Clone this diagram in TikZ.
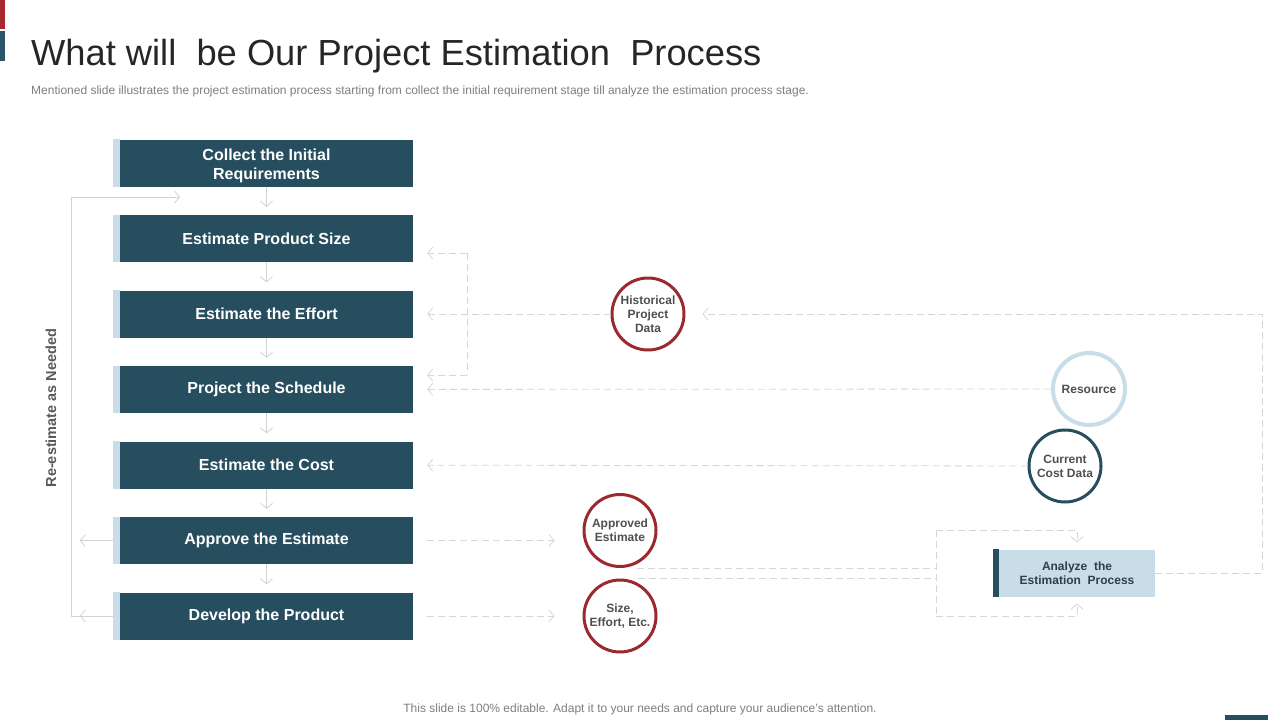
\documentclass[tikz,border=0pt]{standalone}
\usepackage{fontspec}
\setmainfont{Liberation Sans}
\usetikzlibrary{arrows.meta}
\definecolor{boxteal}{HTML}{264E5F}
\definecolor{stripblue}{HTML}{C8DDE7}
\definecolor{darkred}{HTML}{9B2A2F}
\definecolor{accentred}{HTML}{A8282F}
\definecolor{accentteal}{HTML}{2B5468}
\definecolor{flowgray}{HTML}{D2D2D2}
\definecolor{dashgray}{HTML}{D6D6D6}
\definecolor{circtext}{HTML}{4F4F4F}
\definecolor{titlegray}{HTML}{262626}
\definecolor{notegray}{HTML}{7F7F7F}
\definecolor{labelgray}{HTML}{595959}
\definecolor{analyzetext}{HTML}{2F3F4A}

\begin{document}
\begin{tikzpicture}[x=1pt, y=-1pt,
  stepbox/.style={fill=boxteal, text=white, font=\bfseries\fontsize{16}{19}\selectfont,
    minimum width=293pt, minimum height=47pt, inner sep=0pt, align=center},
  datacircle/.style={circle, draw=#1, line width=3pt, minimum size=72pt, inner sep=0pt,
    align=center, text=circtext, font=\bfseries\fontsize{12}{14}\selectfont},
  analyzebox/.style={fill=stripblue, text=analyzetext, font=\bfseries\fontsize{12}{14}\selectfont,
    minimum width=156pt, minimum height=47pt, inner sep=0pt, align=center},
  flow/.style={draw=flowgray, line width=0.8pt, -{Straight Barb[length=5pt,width=12pt]}},
  dashflow/.style={draw=dashgray, line width=0.8pt, dash pattern=on 7pt off 4pt},
  dasharrow/.style={dashflow, -{Straight Barb[length=5pt,width=12pt]}}]

\useasboundingbox[fill=white] (0,0) rectangle (1280,720);

% corner marks
\fill[accentred] (0,0) rectangle (5,29);
\fill[accentteal] (0,31) rectangle (5,61);
\fill[boxteal] (1225,715) rectangle (1268,720);

% title and notes
\node[anchor=base west, inner sep=0pt, font=\fontsize{36.3}{43}\selectfont, text=titlegray] (title) at (31,65)
  {What will~ be Our Project Estimation~ Process};
\node[anchor=base west, inner sep=0pt, font=\fontsize{12}{14}\selectfont, text=notegray] (subtitle) at (31,94)
  {Mentioned slide illustrates the project estimation process starting from collect the initial requirement stage till analyze the estimation process stage.};
\node[anchor=base, inner sep=0pt, font=\fontsize{12}{14}\selectfont, text=notegray] (footer) at (640,712)
  {This slide is 100\% editable. Adapt it to your needs and capture your audience's attention.};

% process steps
\foreach \name/\y/\txt in {collect/163/{\rule{0pt}{17.7pt}Collect the Initial\\Requirements},
    prodsize/238.5/{Estimate Product Size}, effort/314/{Estimate the Effort},
    schedule/389.5/{Project the Schedule}, cost/465/{Estimate the Cost},
    approve/540.5/{Approve the Estimate}, develop/616/{Develop the Product}}
  \node[stepbox] (\name) at (266.5,\y) {\txt};
\foreach \name in {collect,prodsize,effort,schedule,cost,approve,develop}
  \fill[stripblue] ([xshift=-7pt]\name.north west) rectangle (\name.south west);

\foreach \a/\b in {collect/prodsize,prodsize/effort,effort/schedule,schedule/cost,cost/approve,approve/develop}
  \draw[flow, shorten >=8pt] (\a) -- (\b);

% re-estimate loop
\coordinate (looptop) at (71,197);
\coordinate (looptip) at (180,197);
\draw[flow] ([xshift=-7pt]develop.west) -| (looptop) -- (looptip);
\draw[flow] ([xshift=-7pt]develop.west) -- ++(-33,0);
\draw[flow] ([xshift=-7pt]approve.west) -- ++(-33,0);
\node[rotate=90, font=\bfseries\fontsize{14.5}{17}\selectfont, text=labelgray] (relabel) at (51,408)
  {Re-estimate as Needed};

% inputs
\node[datacircle=darkred] (hist) at (648,314) {Historical\\Project\\Data};
\node[datacircle=stripblue, line width=4pt] (resource) at (1089,389) {Resource};
\node[datacircle=boxteal] (costdata) at (1065,466) {Current\\Cost Data};
\node[datacircle=darkred] (approved) at (620,530.5) {Approved\\Estimate};
\node[datacircle=darkred] (sizeetc) at (620,616) {Size,\\Effort, Etc.};
\node[analyzebox] (analyze) at (1077,573) {Analyze~ the\\Estimation~ Process};
\fill[boxteal] ([xshift=-6pt]analyze.north west) rectangle (analyze.south west);

\coordinate (brtop) at (467,253);
\coordinate (brbot) at (467,375);
\draw[dashflow] (brtop) -- (brbot);
\draw[dasharrow, shorten >=14pt] (brtop) -- (brtop -| prodsize.east);
\draw[dasharrow, shorten >=14pt] (brbot) -- (brbot -| schedule.east);
\draw[dasharrow, shorten >=14pt] (hist) -- (effort);
\draw[dasharrow, shorten >=14pt] (resource) -- (schedule);
\draw[dasharrow, shorten >=14pt] (costdata) -- (cost);

\coordinate (backtop) at (1262,314);
\draw[dasharrow, shorten >=17pt] (analyze.east) -| (backtop) -- (hist);

\draw[dasharrow, shorten <=14pt, shorten >=28pt] (approve.east) -- (approve.east -| approved.west);
\draw[dasharrow, shorten <=14pt, shorten >=28pt] (develop) -- (sizeetc);

\coordinate (jointop) at (936,530);
\coordinate (joinbot) at (936,616);
\draw[dashflow] ([xshift=17pt]approved.south) -- (approved.south -| jointop);
\draw[dashflow] ([xshift=18pt]sizeetc.north) -- (sizeetc.north -| jointop);
\draw[dashflow] (jointop) -- (joinbot);
\draw[dasharrow, shorten >=7pt] (jointop) -| (analyze.north);
\draw[dasharrow, shorten >=7pt] (joinbot) -| (analyze.south);
\end{tikzpicture}
\end{document}
